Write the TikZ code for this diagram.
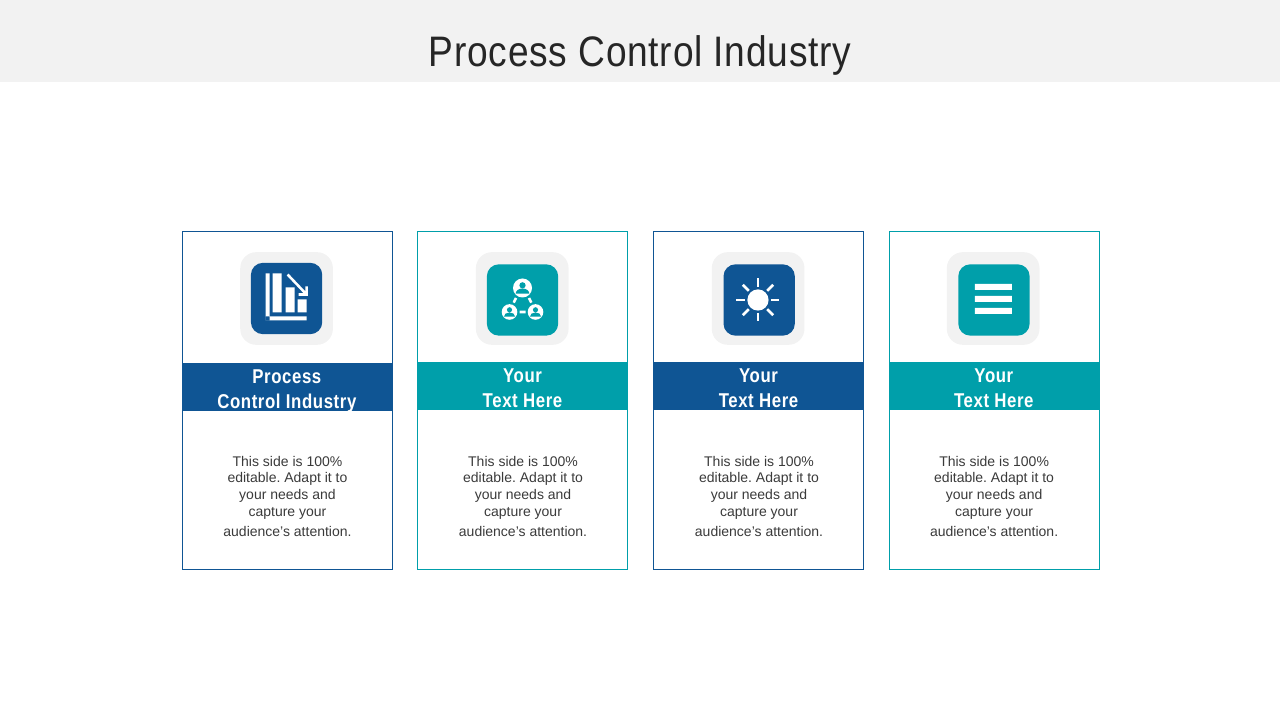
\documentclass[tikz,border=0pt]{standalone}
\usepackage{fontspec}
\usepackage{xcolor}
\usetikzlibrary{positioning}
\setmainfont{Liberation Sans}
\newfontfamily\titlefont[FakeStretch=.87,LetterSpace=1.8]{Liberation Sans}
\newfontfamily\bandfont[FakeStretch=.84,LetterSpace=3]{Liberation Sans}
\definecolor{deepblue}{HTML}{0F5594}
\definecolor{seateal}{HTML}{009FAA}
\definecolor{palegray}{HTML}{F2F2F2}
\definecolor{inkgray}{HTML}{3A3A3A}

\begin{document}
\frenchspacing
\begin{tikzpicture}[x=.75pt ,y=.75pt ,on grid ,inner sep=0pt ,outer sep=0pt
,card/.style ={ rectangle ,draw ,line width=.75pt ,minimum width =157.5pt ,minimum height =253.5pt}
,band/.style ={ rectangle ,minimum width =158pt ,minimum height =36pt}
,bandtext/.style ={ text=white ,align=center ,font=\bandfont\bfseries\fontsize{15}{18.6}\selectfont}
,plate/.style ={ rectangle ,rounded corners=12pt ,fill=palegray ,minimum width =69.5pt ,minimum height =69.5pt}
,tile/.style ={ rectangle ,rounded corners=9pt ,minimum width =53.5pt ,minimum height =53.5pt}
,blurb/.style ={ align=center ,text=inkgray ,font=\fontsize{10.5}{12.5}\selectfont}
,glyph/.style ={ draw=white ,line width=1.9pt}]
\useasboundingbox (0,0) rectangle (1280,720);
\node[rectangle ,fill=palegray ,minimum width =960pt ,minimum height =61.5pt] (header) at (640,679) {};
\node[text=black!85 ,font=\titlefont\fontsize{32}{38}\selectfont] (title) at (640,665) {Process Control Industry};

\node[card ,draw=deepblue] (A) at (287.5,319.5) {};
\node[card ,draw=seateal] (B) [right = 235 of A] {};
\node[card ,draw=deepblue] (C) [right = 236 of B] {};
\node[card ,draw=seateal] (D) [right = 236 of C] {};

\node[band ,fill=deepblue] (bandA) [above = 13 of A ,xshift=-.5pt] {};
\node[band ,fill=seateal] (bandB) [above = 14 of B] {};
\node[band ,fill=deepblue] (bandC) [above = 14 of C] {};
\node[band ,fill=seateal] (bandD) [above = 14 of D ,xshift=-.5pt] {};

\node[bandtext] (labelA) [below = 4 of bandA] {Process\\Control Industry};
\node[bandtext] (labelB) [below = 2 of bandB] {Your\\Text Here};
\node[bandtext] (labelC) [below = 2 of bandC] {Your\\Text Here};
\node[bandtext] (labelD) [below = 2 of bandD] {Your\\Text Here};

\node[plate] (plateA) [above = 102 of A ,xshift=-.7pt] {};
\node[plate] (plateB) [above = 102 of B ,xshift=-.2pt] {};
\node[plate] (plateC) [above = 102 of C ,xshift=-.3pt] {};
\node[plate] (plateD) [above = 102 of D ,xshift=-1pt] {};

\node[tile ,fill=deepblue] (tileA) [above = 102 of A ,xshift=-.7pt] {};
\node[tile ,fill=seateal] (tileB) [above = 100.5 of B] {};
\node[tile ,fill=deepblue] (tileC) [above = 100.5 of C ,xshift=.5pt] {};
\node[tile ,fill=seateal] (tileD) [above = 100.5 of D ,xshift=-.4pt] {};

\node[blurb] (textA) [below = 96 of A] {This side is 100\%\\editable. Adapt it to\\your needs and\\capture your\\[3.2pt]audience’s attention.};
\node[blurb] (textB) [below = 96 of B ,xshift=.4pt] {This side is 100\%\\editable. Adapt it to\\your needs and\\capture your\\[3.2pt]audience’s attention.};
\node[blurb] (textC) [below = 96 of C ,xshift=.4pt] {This side is 100\%\\editable. Adapt it to\\your needs and\\capture your\\[3.2pt]audience’s attention.};
\node[blurb] (textD) [below = 96 of D ,xshift=-.3pt] {This side is 100\%\\editable. Adapt it to\\your needs and\\capture your\\[3.2pt]audience’s attention.};

% falling bars
\begin{scope}[shift={(tileA.center)}]
\fill[white] (-21,25) rectangle (-17,-22) (-21,-22) rectangle (20,-18);
\fill[white] (-14,25) rectangle (-5,-14) (-1,11) rectangle (8,-14) (11,-1) rectangle (20,-14);
\draw[glyph] (1,24) -- (20,4) (20,12) -- (20,4) -- (12,4);
\end{scope}

% three people
\begin{scope}[shift={(tileB.center)}]
\foreach \px/\py/\pr in {0/12/9.5 ,-13/-12/7.8 ,13/-12/7.8}{
\fill[white] (\px,\py) circle (\pr);
\fill[seateal] (\px,\py+.28*\pr) circle ({.33*\pr});
\fill[seateal] (\px-.72*\pr,\py-.6*\pr) arc (180:0:{.72*\pr} and {.55*\pr}) -- cycle;
}
\draw[glyph] (-6.5,2) -- (-8.8,-2.7) (6.5,2) -- (8.8,-2.7) (-3,-12) -- (3,-12);
\end{scope}

% sun
\begin{scope}[shift={(tileC.center)} ,xshift=-.9pt]
\fill[white] (0,0) circle (10.6);
\foreach \ang in {0,45,...,315}{
\draw[glyph] (\ang:13) -- (\ang:21.5);
}
\end{scope}

% menu lines
\begin{scope}[shift={(tileD.center)}]
\fill[white] (-19,16) rectangle (18,10) (-19,4) rectangle (18,-2) (-19,-8) rectangle (18,-14);
\end{scope}
\end{tikzpicture}
\end{document}
